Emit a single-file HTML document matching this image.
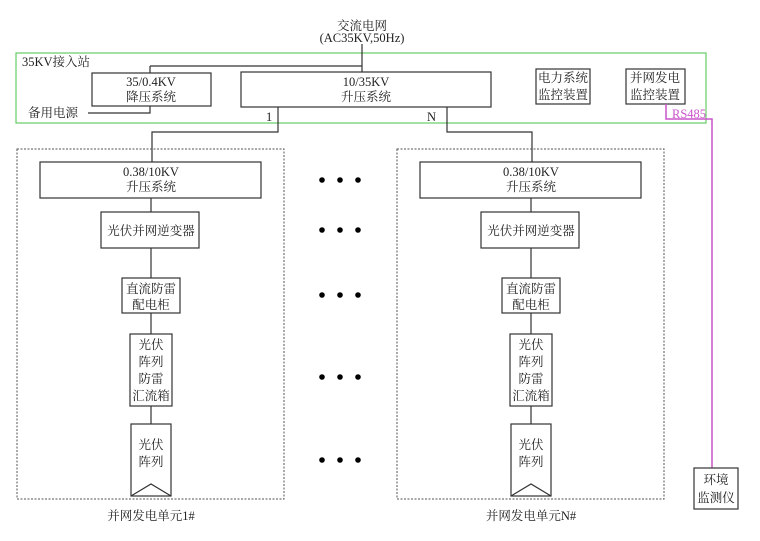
<!DOCTYPE html>
<html><head><meta charset="utf-8"><style>
body{margin:0;background:#fff;}
svg text{font-family:"Liberation Serif","Noto Serif CJK SC",serif;font-size:12.5px;fill:#222;}
</style></head><body>
<svg width="760" height="536" viewBox="0 0 760 536" xmlns="http://www.w3.org/2000/svg">
<g text-anchor="middle">
<text x="362" y="30">交流电网</text>
<text x="362" y="42">(AC35KV,50Hz)</text>
</g>
<rect x="16" y="53" width="690" height="70" fill="none" stroke="#66cc66" stroke-width="1.2"/>
<text x="22" y="66">35KV接入站</text>
<g fill="none" stroke="#333" stroke-width="1.2">
<path d="M362 44V72M150 66H362M150 66V73"/>
<rect x="92" y="73" width="119" height="33"/>
<rect x="241" y="72" width="250" height="35"/>
<rect x="536" y="69" width="54" height="35"/>
<rect x="626" y="69" width="59" height="35"/>
<path d="M88 113H150V106"/>
<path d="M278 107V132H152V162"/>
<path d="M447 107V132H532V162"/>
</g>
<g text-anchor="middle">
<text x="151" y="86">35/0.4KV</text><text x="151" y="101">降压系统</text>
<text x="366" y="86">10/35KV</text><text x="366" y="101">升压系统</text>
<text x="563" y="82">电力系统</text><text x="563" y="99">监控装置</text>
<text x="655" y="82">并网发电</text><text x="655" y="99">监控装置</text>
</g>
<text x="28" y="117">备用电源</text>
<text x="266" y="121" font-size="11">1</text>
<text x="427" y="121" font-size="11">N</text>
<path d="M666 104V119H712V468" fill="none" stroke="#cc55cc" stroke-width="1.5"/>
<text x="672" y="118" style="fill:#cc55cc" font-size="11">RS485</text>
<rect x="694" y="468" width="44" height="41" fill="none" stroke="#333" stroke-width="1.2"/>
<g text-anchor="middle"><text x="716" y="484">环境</text><text x="716" y="502">监测仪</text></g>

<g>
<rect x="17" y="149" width="267" height="350" fill="none" stroke="#555" stroke-width="1" stroke-dasharray="2,1.5"/>
<g fill="none" stroke="#333" stroke-width="1.2">
<path d="M151 198V212M151 248V278M151 313V334M151 406V424"/>
<rect x="40" y="162" width="221" height="36"/>
<rect x="101" y="212" width="98" height="36"/>
<rect x="122" y="278" width="58" height="35"/>
<rect x="130" y="334" width="42" height="72"/>
<rect x="131" y="424" width="40" height="72"/>
<path d="M131 496L151 484L171 496"/>
</g>
<g text-anchor="middle">
<text x="151" y="176">0.38/10KV</text><text x="151" y="191">升压系统</text>
<text x="151" y="235" font-size="13">光伏并网逆变器</text>
<text x="151" y="293" font-size="13">直流防雷</text><text x="151" y="309" font-size="13">配电柜</text>
<text x="151" y="349" font-size="13">光伏</text><text x="151" y="366" font-size="13">阵列</text>
<text x="151" y="383" font-size="13">防雷</text><text x="151" y="400" font-size="13">汇流箱</text>
<text x="151" y="449" font-size="13">光伏</text><text x="151" y="466" font-size="13">阵列</text>
<text x="151" y="520">并网发电单元1#</text>
</g>
</g>
<g transform="translate(380,0)">
<rect x="17" y="149" width="267" height="350" fill="none" stroke="#555" stroke-width="1" stroke-dasharray="2,1.5"/>
<g fill="none" stroke="#333" stroke-width="1.2">
<path d="M151 198V212M151 248V278M151 313V334M151 406V424"/>
<rect x="40" y="162" width="221" height="36"/>
<rect x="101" y="212" width="98" height="36"/>
<rect x="122" y="278" width="58" height="35"/>
<rect x="130" y="334" width="42" height="72"/>
<rect x="131" y="424" width="40" height="72"/>
<path d="M131 496L151 484L171 496"/>
</g>
<g text-anchor="middle">
<text x="151" y="176">0.38/10KV</text><text x="151" y="191">升压系统</text>
<text x="151" y="235" font-size="13">光伏并网逆变器</text>
<text x="151" y="293" font-size="13">直流防雷</text><text x="151" y="309" font-size="13">配电柜</text>
<text x="151" y="349" font-size="13">光伏</text><text x="151" y="366" font-size="13">阵列</text>
<text x="151" y="383" font-size="13">防雷</text><text x="151" y="400" font-size="13">汇流箱</text>
<text x="151" y="449" font-size="13">光伏</text><text x="151" y="466" font-size="13">阵列</text>
<text x="151" y="520">并网发电单元N#</text>
</g>
</g>
<g fill="#000">
<circle cx="322" cy="180" r="2.8"/><circle cx="340" cy="180" r="2.8"/><circle cx="358" cy="180" r="2.8"/>
<circle cx="322" cy="230" r="2.8"/><circle cx="340" cy="230" r="2.8"/><circle cx="358" cy="230" r="2.8"/>
<circle cx="322" cy="295" r="2.8"/><circle cx="340" cy="295" r="2.8"/><circle cx="358" cy="295" r="2.8"/>
<circle cx="322" cy="377" r="2.8"/><circle cx="340" cy="377" r="2.8"/><circle cx="358" cy="377" r="2.8"/>
<circle cx="322" cy="460" r="2.8"/><circle cx="340" cy="460" r="2.8"/><circle cx="358" cy="460" r="2.8"/>
</g>
</svg>
</body></html>
